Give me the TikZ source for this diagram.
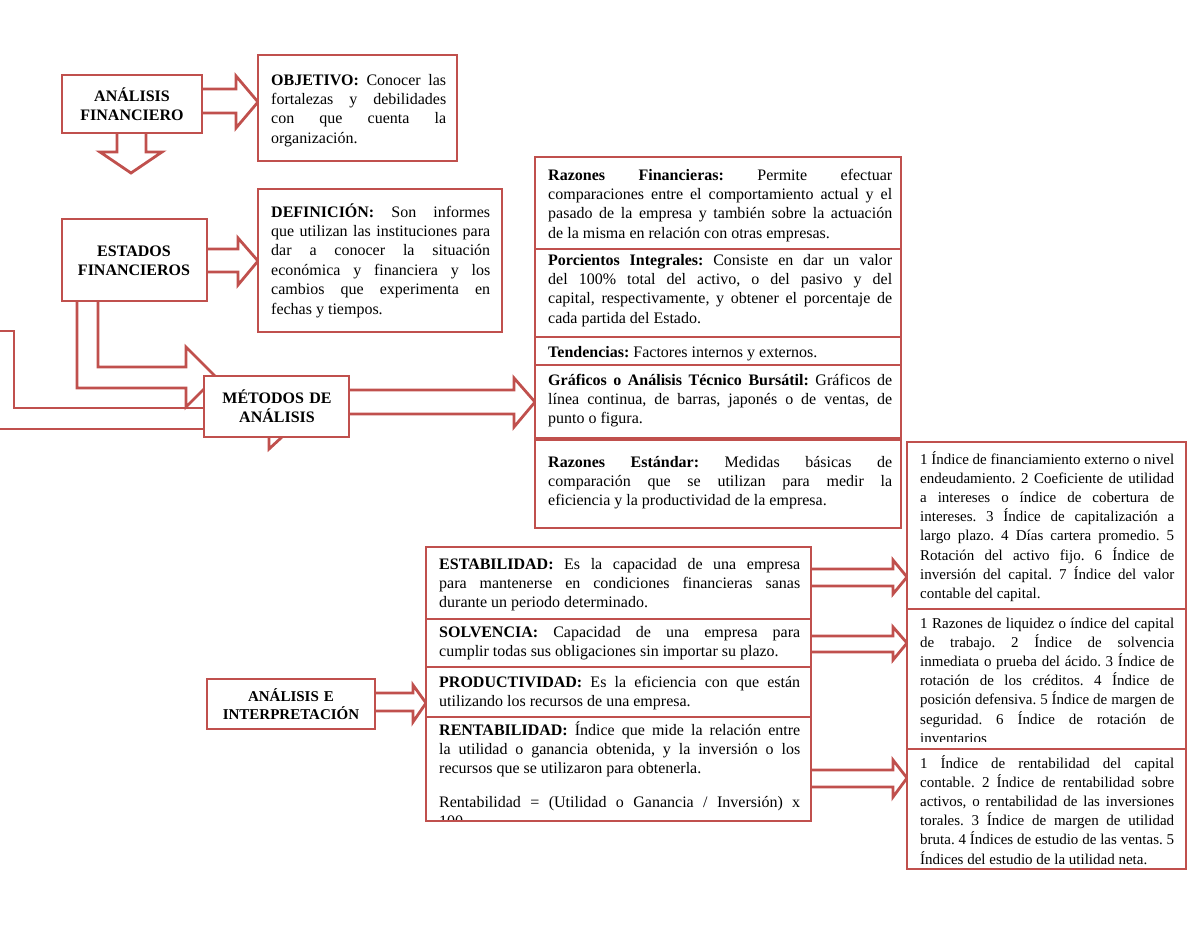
\documentclass[tikz,border=0pt]{standalone}
\usepackage{fontspec}
\setmainfont{Liberation Serif}
\usetikzlibrary{calc}
\definecolor{brd}{RGB}{192,80,77}
\pgfdeclarelayer{background}
\pgfsetlayers{background,main}
\tolerance=10000
\hbadness=10000
\hfuzz=3pt
\frenchspacing
\setlength\parindent{0pt}
\begin{document}
\begin{tikzpicture}[x=1pt,y=-1pt,
 box/.style={draw=brd, line width=2.8pt, fill=white, anchor=north west, inner sep=0pt, outer sep=0pt},
 conn/.style={draw=brd, line width=2.8pt, line join=miter},
 txt/.style={anchor=base west, inner sep=0pt, align=justify, font=\frenchspacing\fontsize{16}{19.4}\selectfont},
 rtxt/.style={anchor=base west, inner sep=0pt, align=justify, text width=254pt, font=\frenchspacing\fontsize{15}{19.2}\selectfont},
 ttl/.style={anchor=base, inner sep=0pt, align=center, text width=170pt, font=\fontsize{16}{19}\selectfont\bfseries}]
\useasboundingbox (0,0) rectangle (1200,927);

% ---------- boxes ----------
\node[box, minimum width=140pt, minimum height=58pt] (afin) at (62,75) {};
\node[box, minimum width=199pt, minimum height=106pt] (obj) at (258,55) {};
\node[box, minimum width=145pt, minimum height=82pt] (est) at (62,219) {};
\node[box, minimum width=244pt, minimum height=143pt] (def) at (258,189) {};
\node[box, minimum width=145pt, minimum height=61pt] (met) at (204,376) {};
\node[box, minimum width=366pt, minimum height=92pt] (rf) at (535,157) {};
\node[box, minimum width=366pt, minimum height=88pt] (pi) at (535,249) {};
\node[box, minimum width=366pt, minimum height=28pt] (tend) at (535,337) {};
\node[box, minimum width=366pt, minimum height=73pt] (gr) at (535,365) {};
\node[box, minimum width=366pt, minimum height=88pt] (re) at (535,440) {};
\node[box, minimum width=279pt, minimum height=167pt] (r1) at (907,442) {};
\node[box, minimum width=279pt, minimum height=140pt] (r2) at (907,609) {};
\node[box, minimum width=279pt, minimum height=120pt] (r3) at (907,749) {};
\node[box, minimum width=385pt, minimum height=72pt] (esta) at (426,547) {};
\node[box, minimum width=385pt, minimum height=48pt] (solv) at (426,619) {};
\node[box, minimum width=385pt, minimum height=50pt] (prod) at (426,667) {};
\node[box, minimum width=385pt, minimum height=104pt] (rent) at (426,717) {};
\node[box, minimum width=168pt, minimum height=50pt] (ai) at (207,679) {};

% ---------- connectors (block arrows) ----------
\coordinate (l1) at (0,331);
\coordinate (l2) at (0,429);
\begin{pgfonlayer}{background}
\draw[conn] (afin.east |- 0,89) -- (236,89) -- (236,76) -- (obj.west |- 0,102) -- (236,128) -- (236,113) -- (afin.east |- 0,113);
\draw[conn] (117,0 |- afin.south) -- (117,152) -- (100,152) -- (131,173) -- (162,152) -- (146,152) -- (146,0 |- afin.south);
\draw[conn] (est.east |- 0,249) -- (238,249) -- (238,238) -- (def.west |- 0,261) -- (238,285) -- (238,272) -- (est.east |- 0,272);
\draw[conn] (98,0 |- est.south) -- (98,367) -- (186,367) -- (186,347) -- (216,377) -- (186,407) -- (186,388) -- (77,388) -- (77,0 |- est.south);
\draw[conn] (l1) -- (14,331) -- (14,408) -- (met.west |- 0,408);
\draw[conn] (l2) -- (met.west |- 0,429);
\draw[conn] (269,0 |- met.south) -- (269,449) -- (282,0 |- met.south);
\draw[conn] (met.east |- 0,390) -- (514,390) -- (514,378) -- (gr.west |- 0,402) -- (514,427) -- (514,414) -- (met.east |- 0,414);
\draw[conn] (ai.east |- 0,693) -- (413,693) -- (413,685) -- (prod.west |- 0,703) -- (413,722) -- (413,711) -- (ai.east |- 0,711);
\draw[conn] (esta.east |- 0,569) -- (893,569) -- (893,560) -- (r1.west |- 0,577) -- (893,594) -- (893,586) -- (esta.east |- 0,586);
\draw[conn] (solv.east |- 0,636) -- (893,636) -- (893,627) -- (r2.west |- 0,643) -- (893,660) -- (893,652) -- (solv.east |- 0,652);
\draw[conn] (rent.east |- 0,770) -- (893,770) -- (893,760) -- (r3.west |- 0,778) -- (893,797) -- (893,787) -- (rent.east |- 0,787);
\end{pgfonlayer}

% ---------- titles ----------
\node[ttl] (afinT) at (132,101) {ANÁLISIS\\FINANCIERO};
\node[ttl] (estT) at (134,256) {ESTADOS\\FINANCIEROS};
\node[ttl] (metT) at (277,403) {MÉTODOS DE\\ANÁLISIS};
\node[ttl, font=\fontsize{15}{18}\selectfont\bfseries] (aiT) at (291,701) {ANÁLISIS E\\INTERPRETACIÓN};

% ---------- texts ----------
\node[txt, text width=175pt] (objT) at (271,85) {\textbf{OBJETIVO:} Conocer las\linebreak fortalezas y debilidades\linebreak con que cuenta la\linebreak organización.};
\node[txt, text width=219pt] (defT) at (271,217) {\textbf{DEFINICIÓN:} Son informes\linebreak que utilizan las instituciones para\linebreak dar a conocer la situación\linebreak económica y financiera y los\linebreak cambios que experimenta en\linebreak fechas y tiempos.};
\node[txt, text width=344pt] (rfT) at (548,180) {\textbf{Razones Financieras:} Permite efectuar\linebreak comparaciones entre el comportamiento actual y el\linebreak pasado de la empresa y también sobre la actuación\linebreak de la misma en relación con otras empresas.};
\node[txt, text width=344pt] (piT) at (548,265) {\textbf{Porcientos Integrales:} Consiste en dar un valor\linebreak del 100\% total del activo, o del pasivo y del\linebreak capital, respectivamente, y obtener el porcentaje de\linebreak cada partida del Estado.};
\node[txt, text width=344pt] (tendT) at (548,357) {\textbf{Tendencias:} Factores internos y externos.};
\node[txt, text width=344pt] (grT) at (548,385) {\textbf{Gráficos o Análisis Técnico Bursátil:} Gráficos de\linebreak línea continua, de barras, japonés o de ventas, de\linebreak punto o figura.};
\node[txt, text width=344pt] (reT) at (548,467) {\textbf{Razones Estándar:} Medidas básicas de\linebreak comparación que se utilizan para medir la\linebreak eficiencia y la productividad de la empresa.};

\node[rtxt] (r1T) at (920,464) {1 Índice de financiamiento externo o nivel\linebreak endeudamiento. 2 Coeficiente de utilidad\linebreak a intereses o índice de cobertura de\linebreak intereses. 3 Índice de capitalización a\linebreak largo plazo. 4 Días cartera promedio. 5\linebreak Rotación del activo fijo. 6 Índice de\linebreak inversión del capital. 7 Índice del valor\linebreak contable del capital.};
\begin{scope}
\clip (908,611) rectangle (1185,741.5);
\node[rtxt] (r2T) at (920,628) {1 Razones de liquidez o índice del capital\linebreak de trabajo. 2 Índice de solvencia\linebreak inmediata o prueba del ácido. 3 Índice de\linebreak rotación de los créditos. 4 Índice de\linebreak posición defensiva. 5 Índice de margen de\linebreak seguridad. 6 Índice de rotación de\linebreak inventarios};
\end{scope}
\node[rtxt] (r3T) at (920,768) {1 Índice de rentabilidad del capital\linebreak contable. 2 Índice de rentabilidad sobre\linebreak activos, o rentabilidad de las inversiones\linebreak torales. 3 Índice de margen de utilidad\linebreak bruta. 4 Índices de estudio de las ventas. 5\linebreak Índices del estudio de la utilidad neta.};

\node[txt, text width=361pt] (estaT) at (439,569) {\textbf{ESTABILIDAD:} Es la capacidad de una empresa\linebreak para mantenerse en condiciones financieras sanas\linebreak durante un periodo determinado.};
\node[txt, text width=361pt] (solvT) at (439,637) {\textbf{SOLVENCIA:} Capacidad de una empresa para\linebreak cumplir todas sus obligaciones sin importar su plazo.};
\node[txt, text width=361pt] (prodT) at (439,687) {\textbf{PRODUCTIVIDAD:} Es la eficiencia con que están\linebreak utilizando los recursos de una empresa.};
\node[txt, text width=361pt] (rentT) at (439,735) {\textbf{RENTABILIDAD:} Índice que mide la relación entre\linebreak la utilidad o ganancia obtenida, y la inversión o los\linebreak recursos que se utilizaron para obtenerla.};
\begin{scope}
\clip (427,790) rectangle (810,819.5);
\node[txt, text width=361pt] (rent2T) at (439,807) {Rentabilidad = (Utilidad o Ganancia / Inversión) x\linebreak 100};
\end{scope}
\end{tikzpicture}
\end{document}
